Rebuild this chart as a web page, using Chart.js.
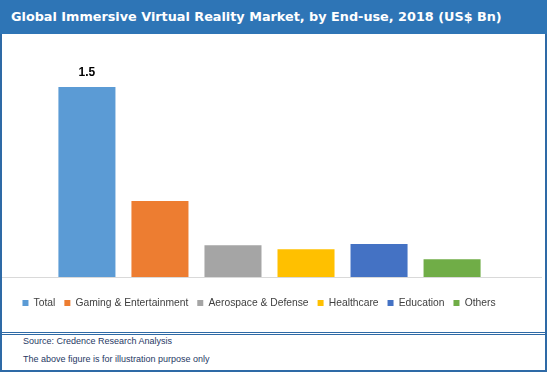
<!DOCTYPE html>
<html>
<head>
<meta charset="utf-8">
<script src="https://cdn.jsdelivr.net/npm/chart.js@4"></script>
<style>
  body { margin: 0; background: #fff; }
  #frame { position: absolute; left: 0; top: 0; width: 547px; height: 372px; box-sizing: border-box; border: 2px solid #2E6AA6; border-top: none; }
  #title { position: absolute; left: 0; top: 0; width: 547px; height: 34px; background: #2E75B6; color: #fff;
           font: bold 12.8px "DejaVu Sans", Verdana, sans-serif; line-height: 34px; padding-left: 11px; box-sizing: border-box; white-space: nowrap; }
  #wrap { position: absolute; left: 2px; top: 34px; width: 543px; height: 296px; }
  #sep { position: absolute; left: 0; top: 332px; width: 547px; height: 1px; border-top: 1px solid #2E6AA6; border-bottom: 1px solid #2E6AA6; }
  .note { position: absolute; left: 23px; font: 9px "Liberation Sans", Arial, sans-serif; color: #1F3864; white-space: nowrap; }
</style>
</head>
<body>
<div id="frame"></div>
<div id="title">Global Immersive Virtual Reality Market, by End-use, 2018 (US$ Bn)</div>
<div id="wrap"><canvas id="chart"></canvas></div>
<div id="sep"></div>
<div class="note" style="top:336px">Source: Credence Research Analysis</div>
<div class="note" style="top:354px">The above figure is for illustration purpose only</div>
<script>
// datos
var segmentos = ['Total', 'Gaming & Entertainment', 'Aerospace & Defense', 'Healthcare', 'Education', 'Others'];
var valores = [1.5, 0.6, 0.25, 0.22, 0.26, 0.14];
var colores = ['#5B9BD5', '#ED7D31', '#A5A5A5', '#FFC000', '#4472C4', '#70AD47'];
var etiquetas = ['1.5', '', '', '', '', ''];

var datasets = segmentos.map(function(s, i){
	return { label: s, data: [valores[i]], backgroundColor: colores[i], borderWidth: 0,
		categoryPercentage: 0.819, barPercentage: 0.781 };
});

// dibuja la linea base y la etiqueta del total
var extras = {
	id: 'extras',
	afterLayout: function(chart){
		// la leyenda va un poco a la izquierda del grupo de barras
		chart.legend.left -= 10.5;
		chart.legend.right -= 10.5;
	},
	afterDatasetsDraw: function(chart){
		var c = chart.ctx, area = chart.chartArea;
		c.save();
		c.strokeStyle = '#D9D9D9';
		c.lineWidth = 1;
		c.beginPath();
		c.moveTo(0, area.bottom + 0.5);
		c.lineTo(chart.width - 3, area.bottom + 0.5);
		c.stroke();
		c.fillStyle = '#000';
		c.font = 'bold 12px "Liberation Sans", Arial, sans-serif';
		c.textAlign = 'center';
		c.textBaseline = 'middle';
		chart.data.datasets.forEach(function(ds, i){
			if(!etiquetas[i]) return;
			var bar = chart.getDatasetMeta(i).data[0];
			c.fillText(etiquetas[i], bar.x, bar.y - 14);
		});
		c.restore();
	}
};

var ctx = document.querySelector('#chart');
var myChart = new Chart(ctx, {
	type: 'bar',
	data: { labels: [''], datasets: datasets },
	options: {
		responsive: true,
		maintainAspectRatio: false,
		animation: false,
		layout: { padding: { left: 0, right: 8, top: 15, bottom: 11.85 } },
		scales: {
			x: {
				display: true,
				grid: { display: false },
				border: { display: false },
				ticks: { display: false },
				afterFit: function(scale){ scale.height = 11.85; }
			},
			y: { display: false, min: 0, max: 1.8 }
		},
		plugins: {
			tooltip: { enabled: false },
			legend: {
				position: 'bottom',
				labels: {
					boxWidth: 6, boxHeight: 6, padding: 9, color: '#404040',
					font: { size: 10.3, family: '"Liberation Sans", Arial, sans-serif' }
				}
			}
		}
	},
	plugins: [extras]
});
</script>
</body>
</html>
